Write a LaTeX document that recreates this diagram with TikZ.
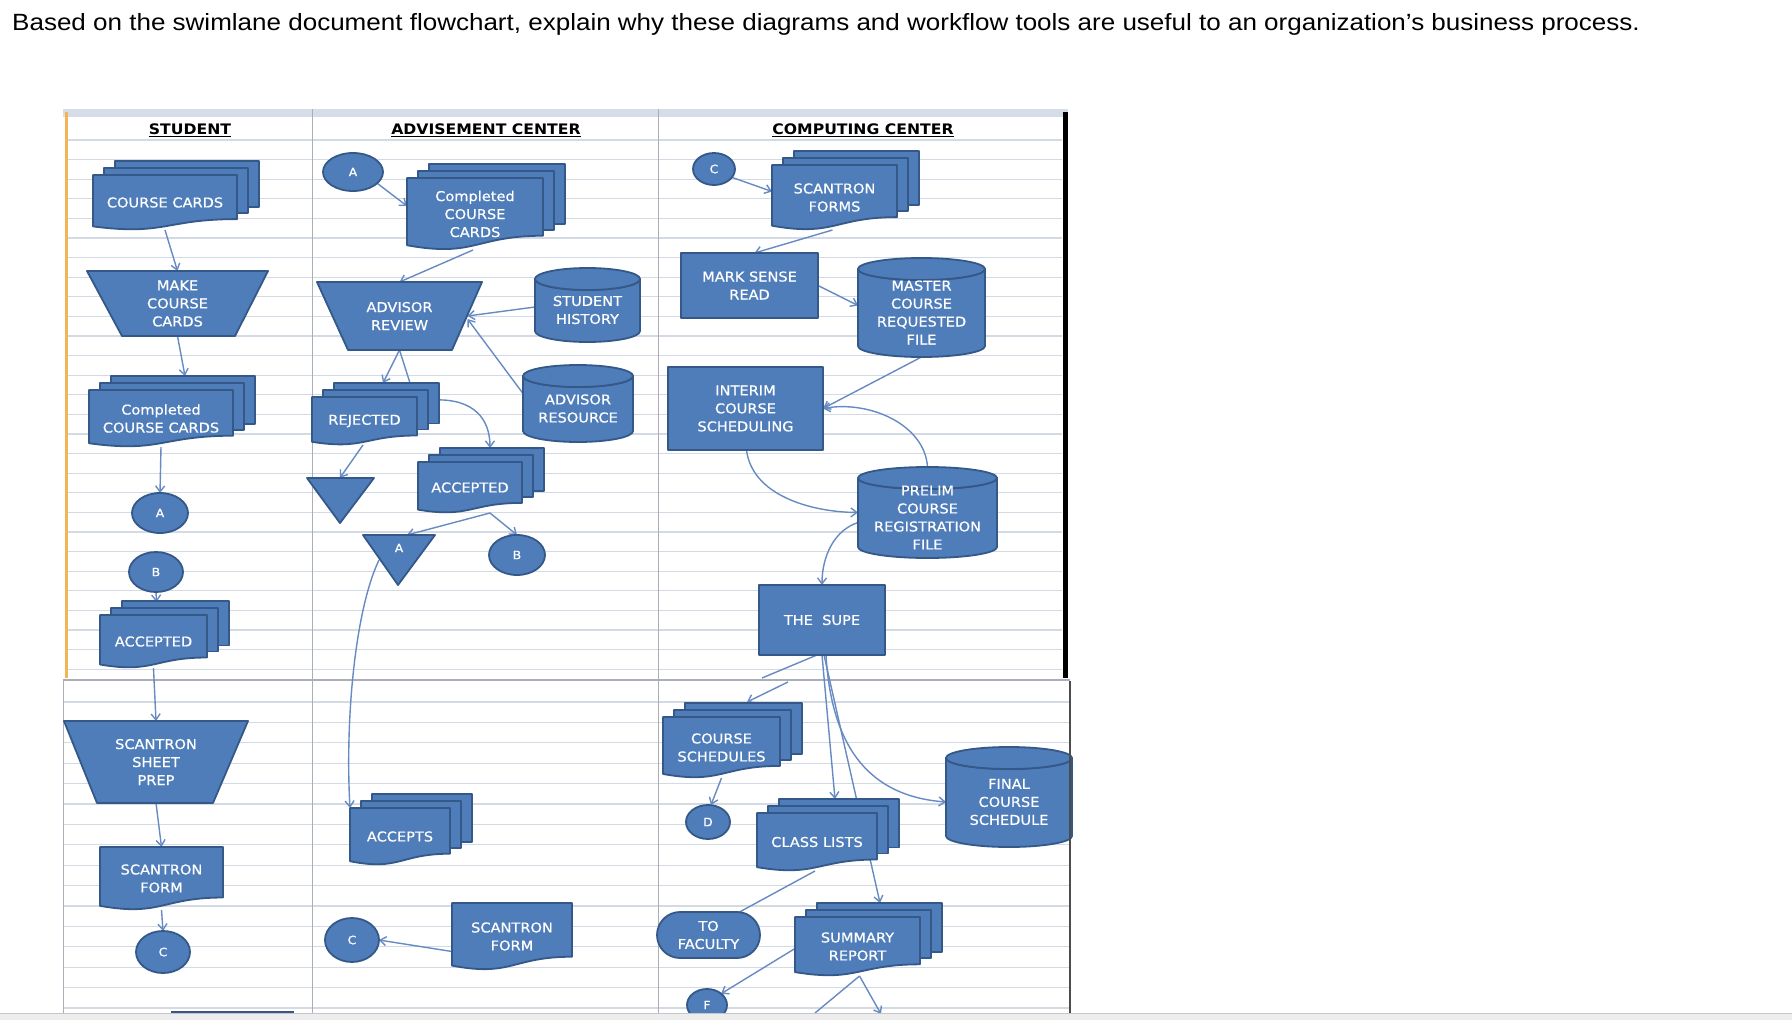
\documentclass[tikz,border=0pt]{standalone}
\usepackage{fontspec}
\newfontfamily\shapefont[FakeStretch=1.08]{DejaVu Sans}
\newfontfamily\lblfont[FakeStretch=1.08,FakeBold=0.5]{DejaVu Sans}
\newfontfamily\titlefont[FakeStretch=1.107]{Liberation Sans}
\usetikzlibrary{shapes.geometric,arrows.meta}
\definecolor{shfill}{RGB}{79,125,186}
\definecolor{shdraw}{RGB}{52,88,135}
\definecolor{connc}{RGB}{104,138,194}
\definecolor{gridc}{RGB}{212,218,228}
\definecolor{hdrbar}{RGB}{214,221,232}
\definecolor{orangeln}{RGB}{242,180,84}
\pgfdeclarelayer{gridlayer}
\pgfdeclarelayer{connlayer}
\pgfsetlayers{gridlayer,connlayer,main}
\tikzset{
  shp/.style={fill=shfill, draw=shdraw, line width=1.8pt, line join=round},
  lbl/.style={inner sep=0pt, outer sep=0pt, align=center, text=white,
    font=\lblfont\fontsize{13.5}{18}\selectfont},
  rectnode/.style={shp, lbl, rectangle},
  circ/.style={shp, ellipse, inner sep=0pt, outer sep=0pt, text=white,
    font=\lblfont\fontsize{11.5}{13}\selectfont},
  hdr/.style={inner sep=0pt, text=black, font=\shapefont\bfseries\fontsize{14.5}{17}\selectfont},
  arr/.style={draw=connc, line width=1.4pt, -{Straight Barb[length=6pt,width=9pt]}},
  ln/.style={draw=connc, line width=1.4pt},
  gridln/.style={draw=gridc, line width=1.3pt}
}
\newcommand{\docpath}[4]{%
  \pgfmathsetmacro{\dpw}{#3-#1}%
  \pgfmathsetmacro{\dph}{#4-#2}%
  \filldraw[shp] (#1,#2) -- (#3,#2) -- (#3,{#2+0.802*\dph}) .. controls ({#1+0.5*\dpw},{#2+0.802*\dph}) and ({#1+0.5*\dpw},{#2+1.107*\dph}) .. (#1,{#2+0.934*\dph}) -- cycle;}
\newcommand{\mdoc}[6]{%
  \pgfmathsetmacro{\mdh}{#5-#3}%
  \pgfmathsetmacro{\mdr}{#3+0.802*\mdh}%
  \filldraw[shp] ({#2+22},{#3-14}) rectangle ({#4+22},{\mdr-12});
  \filldraw[shp] ({#2+11},{#3-7}) rectangle ({#4+11},{\mdr-6});
  \docpath{#2}{#3}{#4}{#5}
  \node[lbl, minimum width={#4-#2}, minimum height={#5-#3}] (#1) at ({(#2+#4)/2},{(#3+#5)/2}) {#6};}
\newcommand{\sdoc}[6]{%
  \docpath{#2}{#3}{#4}{#5}
  \node[lbl, minimum width={#4-#2}, minimum height={#5-#3}] (#1) at ({(#2+#4)/2},{(#3+#5)/2}) {#6};}
\newcommand{\cyl}[6]{%
  \pgfmathsetmacro{\cyx}{(#2+#4)/2}%
  \pgfmathsetmacro{\cyr}{(#4-#2)/2}%
  \filldraw[shp] (#2,{#3+11}) -- (#2,{#5-11}) arc[start angle=180,end angle=0,x radius=\cyr,y radius=11] -- (#4,{#3+11}) arc[start angle=0,end angle=180,x radius=\cyr,y radius=11] -- cycle;
  \filldraw[shp] (\cyx,{#3+11}) ellipse[x radius=\cyr,y radius=11];
  \node[lbl, minimum width={#4-#2}, minimum height={#5-#3}] (#1) at (\cyx,{(#3+#5)/2+5}) {#6};}
\newcommand{\trap}[8]{%
  \filldraw[shp] (#2,#4) -- (#3,#4) -- (#6,#7) -- (#5,#7) -- cycle;
  \node[lbl, minimum width={#6-#5}, minimum height={#7-#4}] (#1) at ({(#2+#3)/2},{(#4+#7)/2}) {#8};}

\begin{document}
\begin{tikzpicture}[x=1pt,y=-1pt]
\useasboundingbox (0,0) rectangle (1792,1020);

% ---------- sheet background ----------
\begin{pgfonlayer}{gridlayer}
\fill[white] (0,0) rectangle (1792,1020);
\foreach \i in {0,...,27} \draw[gridln] (67,{140+19.6*\i}) -- (1062,{140+19.6*\i});
\foreach \i in {0,...,15} \draw[gridln] (64,{702+20.4*\i}) -- (1069,{702+20.4*\i});
\fill[hdrbar] (63,109) rectangle (1068,117);
\draw[gridc!80!black, line width=1pt] (312,109) -- (312,1013);
\draw[gridc!80!black, line width=1pt] (658,109) -- (658,1013);
\draw[gridc!80!black, line width=1.2pt] (63,680) -- (1070,680);
\draw[gridc!80!black, line width=1pt] (63,680) -- (63,1013);
\end{pgfonlayer}

% ---------- title ----------
\node[anchor=base west, inner sep=0pt, font=\titlefont\fontsize{23.5}{28}\selectfont] (title) at (12,30)
  {Based on the swimlane document flowchart, explain why these diagrams and workflow tools are useful to an organization’s business process.};

% ---------- headers ----------
\node[hdr] (h1) at (190,130) {\underline{STUDENT}};
\node[hdr] (h2) at (486,130) {\underline{ADVISEMENT CENTER}};
\node[hdr] (h3) at (863,130) {\underline{COMPUTING CENTER}};

% ---------- student lane ----------
\mdoc{s1}{93}{175}{237}{230}{COURSE CARDS}
\trap{s2}{87}{268}{271}{122}{235}{336}{MAKE\\COURSE\\CARDS}
\mdoc{s3}{89}{390}{233}{447}{Completed\\COURSE CARDS}
\node[circ, minimum width=56, minimum height=40] (sA) at (160,513) {A};
\node[circ, minimum width=54, minimum height=40] (sB) at (156,572) {B};
\mdoc{s4}{100}{615}{207}{668}{ACCEPTED}
\trap{s5}{64}{248}{721}{97}{213}{803}{SCANTRON\\SHEET\\PREP}
\sdoc{s6}{100}{847}{223}{910}{SCANTRON\\FORM}
\node[circ, minimum width=54, minimum height=42] (sC) at (163,952) {C};

% ---------- advisement lane ----------
\node[circ, minimum width=60, minimum height=38] (aA) at (353,172) {A};
\mdoc{a1}{407}{178}{543}{250}{Completed\\COURSE\\CARDS}
\trap{a2}{317}{482}{282}{348}{452}{350}{ADVISOR\\REVIEW}
\cyl{a3}{535}{268}{640}{342}{STUDENT\\HISTORY}
\cyl{a4}{523}{365}{633}{442}{ADVISOR\\RESOURCE}
\mdoc{a5}{312}{397}{417}{445}{REJECTED}
\filldraw[shp] (307,478) -- (374,478) -- (340,523) -- cycle;
\node[inner sep=0pt, minimum width=67, minimum height=45] (a7) at (340,500.5) {};
\mdoc{a6}{418}{462}{522}{513}{ACCEPTED}
\filldraw[shp] (363,535) -- (435,535) -- (398,585) -- cycle;
\node[lbl, font=\lblfont\fontsize{11.5}{13}\selectfont, minimum width=72, minimum height=26] (a8) at (399,548) {A};
\node[circ, minimum width=56, minimum height=40] (a9) at (517,555) {B};
\mdoc{a10}{350}{808}{450}{865}{ACCEPTS}
\node[circ, minimum width=54, minimum height=44] (a12) at (352,940) {C};
\sdoc{a11}{452}{903}{572}{970}{SCANTRON\\FORM}

% ---------- computing lane ----------
\node[circ, minimum width=42, minimum height=32] (cC) at (714,169) {C};
\mdoc{c1}{772}{165}{897}{230}{SCANTRON\\FORMS}
\node[rectnode, minimum width=137, minimum height=65] (c2) at (749.5,285.5) {MARK SENSE\\READ};
\cyl{c3}{858}{258}{985}{357}{MASTER\\COURSE\\REQUESTED\\FILE}
\node[rectnode, minimum width=155, minimum height=83] (c4) at (745.5,408.5) {INTERIM\\COURSE\\SCHEDULING};
\cyl{c5}{858}{467}{997}{558}{PRELIM\\COURSE\\REGISTRATION\\FILE}
\node[rectnode, minimum width=126, minimum height=70] (c6) at (822,620) {THE\ \ SUPE};
\mdoc{c7}{663}{717}{780}{778}{COURSE\\SCHEDULES}
\node[circ, minimum width=44, minimum height=34] (cD) at (708,822) {D};
\mdoc{c8}{757}{813}{877}{871}{CLASS LISTS}
\cyl{c9}{946}{747}{1072}{847}{FINAL\\COURSE\\SCHEDULE}
\node[rectnode, rounded corners=23pt, minimum width=103, minimum height=46] (c11) at (708.5,935) {TO\\FACULTY};
\mdoc{c10}{795}{917}{920}{976}{SUMMARY\\REPORT}
\node[circ, minimum width=40, minimum height=32] (cF) at (707,1005) {F};

\coordinate (k1) at (762,678);
\coordinate (k2) at (788,682);
\coordinate (k3) at (815,1013);
\coordinate (k4) at (881,1014);

% ---------- connectors ----------
\begin{pgfonlayer}{connlayer}
\draw[arr] (s1.south) -- (s2.north);
\draw[arr] (s2.south) -- ([xshift=24pt,yshift=14pt]s3.north);
\draw[arr] (s3.south) -- (sA.north);
\draw[arr] (sB.south) -- ([xshift=3pt,yshift=13pt]s4.north);
\draw[arr] (s4.south) -- (s5.north);
\draw[arr] (s5.south) -- (s6.north);
\draw[arr] (s6.south) -- (sC.north);

\draw[arr] (aA.-25) -- ([yshift=8pt]a1.west);
\draw[arr] ([xshift=-2pt]a1.south) -- (a2.north);
\draw[arr] ([yshift=3pt]a3.west) -- ([xshift=16pt]a2.east);
\draw[arr] ([yshift=15pt]a4.west) -- ([xshift=16pt,yshift=-3pt]a2.east);
\draw[arr] (a2.south) -- ([xshift=18.5pt,yshift=14pt]a5.north);
\draw[ln] (a2.south) -- ([xshift=45.5pt,yshift=14pt]a5.north);
\draw[arr] ([xshift=16pt,yshift=21pt]a5.east) .. controls (475,398) and (490,420) .. ([xshift=20pt,yshift=14pt]a6.north);
\draw[arr] ([xshift=-1.5pt]a5.south) -- (a7.north);
\draw[arr] ([xshift=20pt]a6.south) -- ([xshift=8pt]a8.north);
\draw[arr] ([xshift=20pt]a6.south) -- (a9.north);
\draw[arr] ([xshift=-20pt,yshift=-12pt]a8.center) .. controls (355,610) and (345,720) .. (a10.north west);
\draw[arr] ([yshift=-15pt]a11.west) -- (a12.east);

\draw[arr] (cC.-25) -- ([yshift=6pt]c1.west);
\draw[arr] ([xshift=-2pt]c1.south) -- ([xshift=5pt]c2.north);
\draw[arr] (c2.east) -- ([yshift=7pt]c3.west);
\draw[arr] ([yshift=5pt]c3.south) -- (c4.east);
\draw[arr] ([yshift=5pt]c5.north) .. controls (925,425) and (870,400) .. (c4.east);
\draw[arr] ([xshift=1pt]c4.south) .. controls (752,495) and (810,512) .. ([yshift=5pt]c5.west);
\draw[arr] ([yshift=-5pt]c5.west) .. controls (835,530) and (822,555) .. (c6.north);
\draw[ln] ([xshift=-5pt]c6.south) -- (k1);
\draw[arr] (k2) -- ([xshift=25.5pt,yshift=15pt]c7.north);
\draw[arr] (c6.south) -- ([xshift=18pt,yshift=14pt]c8.north);
\draw[arr] ([xshift=2pt]c6.south) -- ([xshift=22.5pt,yshift=14pt]c10.north);
\draw[arr] ([xshift=4pt]c6.south) .. controls (832,760) and (880,797) .. (c9.west);
\draw[arr] (c7.south) -- ([xshift=3pt]cD.north);
\draw[ln] ([xshift=-2pt]c8.south) -- ([xshift=31pt]c11.north);
\draw[arr] ([yshift=-2pt]c10.west) -- (cF.north east);
\draw[ln] ([xshift=2pt]c10.south) -- (k3);
\draw[arr] ([xshift=2pt]c10.south) -- (k4);
\end{pgfonlayer}

% ---------- frame lines on top ----------
\draw[orangeln, line width=3pt] (66,112) -- (66,678);
\draw[black, line width=5pt] (1065,112) -- (1065,678);
\draw[gray!60!black, line width=1.5pt] (1070,681) -- (1070,1013);

% ---------- bottom strip ----------
\fill[gray!14] (0,1013) rectangle (1792,1020);
\draw[gray!45, line width=1pt] (0,1013.5) -- (1792,1013.5);
\draw[shdraw, line width=2pt] (171,1012) -- (294,1012);
\end{tikzpicture}
\end{document}
